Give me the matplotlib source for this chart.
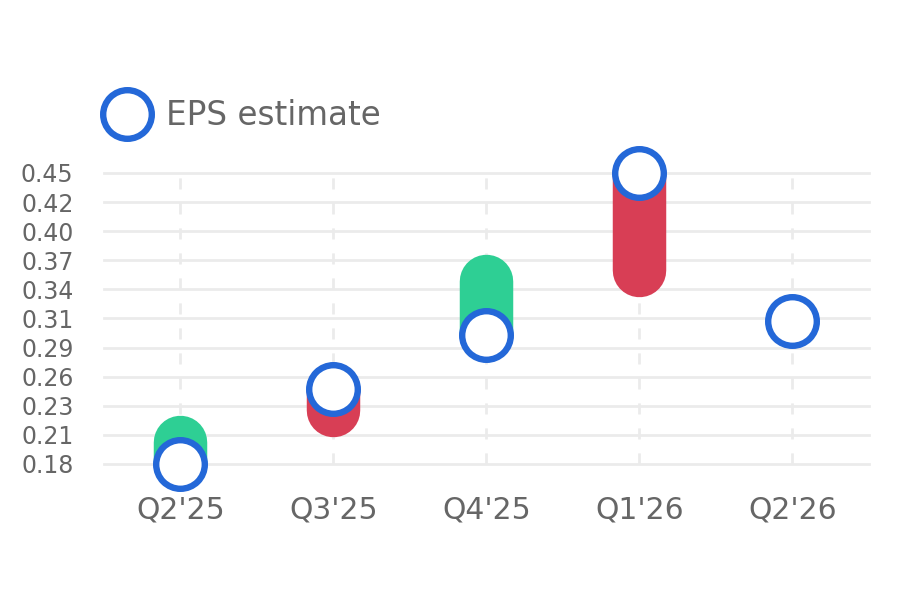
import numpy as np
import matplotlib.pyplot as plt
from matplotlib.lines import Line2D

quarters = ["Q2'25", "Q3'25", "Q4'25", "Q1'26", "Q2'26"]
eps_estimate = [0.18, 0.25, 0.30, 0.45, 0.313]
eps_actual = [0.20, 0.23, 0.35, 0.36, None]
ytick_values = [0.18, 0.207, 0.234, 0.261, 0.288, 0.315, 0.342, 0.369, 0.396, 0.423, 0.45]
ytick_labels = ['0.18', '0.21', '0.23', '0.26', '0.29', '0.31', '0.34', '0.37', '0.40', '0.42', '0.45']

green = '#2ecf94'
red = '#d83e55'
blue = '#2468d8'
text_col = '#666666'
grid_col = '#ebebeb'

fig = plt.figure(figsize=(9, 6), dpi=100)
ax = fig.add_axes([0.1155, 0.2267, 0.85, 0.485])

x = np.arange(len(quarters))

# bars from estimate to actual, green = beat, red = miss
for i, (est, act) in enumerate(zip(eps_estimate, eps_actual)):
    if act is None:
        continue
    col = green if act >= est else red
    ax.plot([i, i], [est, act], color=col, lw=38.5, solid_capstyle='round',
            zorder=3, clip_on=False)

ax.plot(x, eps_estimate, 'o', ms=35, mfc='white', mec=blue, mew=4.6,
        zorder=4, clip_on=False, linestyle='none')

ax.set_xlim(-0.5, 4.5)
ax.set_ylim(0.18, 0.45)
ax.set_yticks(ytick_values)
ax.set_yticklabels(ytick_labels)
ax.set_xticks(x)
ax.set_xticklabels(quarters)

ax.tick_params(axis='y', length=0, pad=22, labelsize=17, labelcolor=text_col)
ax.tick_params(axis='x', length=0, pad=23, labelsize=21.5, labelcolor=text_col)

for s in ax.spines.values():
    s.set_visible(False)

ax.grid(axis='y', color=grid_col, lw=2, zorder=0)
ax.grid(axis='x', color=grid_col, lw=2, linestyle=(0, (4, 5)), zorder=0)
ax.set_axisbelow(True)
for gl in ax.get_ygridlines():
    gl.set_clip_on(False)

handle = Line2D([], [], marker='o', ms=35, mfc='white', mec=blue, mew=4.6,
                linestyle='none')
fig.legend([handle], ['EPS estimate'], loc='center left',
           bbox_to_anchor=(0.114, 0.807), frameon=False, fontsize=23.5,
           labelcolor=text_col, handletextpad=0.45, borderpad=0, borderaxespad=0,
           handlelength=1.5)

fig.savefig('out.png', dpi=100)
